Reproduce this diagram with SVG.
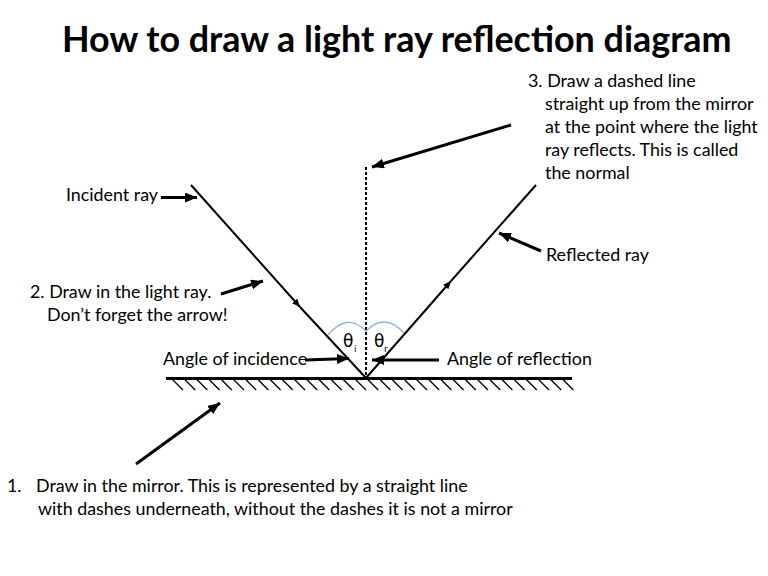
<svg xmlns="http://www.w3.org/2000/svg" width="768" height="576" viewBox="0 0 768 576">
<defs>
<marker id="a" markerUnits="userSpaceOnUse" markerWidth="14" markerHeight="12" refX="12" refY="5" orient="auto"><path d="M0 0L12 5L0 10z" fill="#000"/></marker>
<marker id="s" markerUnits="userSpaceOnUse" markerWidth="10" markerHeight="8" refX="8" refY="3.5" orient="auto"><path d="M0 0L8 3.5L0 7z" fill="#000"/></marker>
</defs>
<style>
text{font-family:"Lato","Liberation Sans",sans-serif;font-size:17.85px;fill:#000}
.t{font-size:35.9px;font-weight:700}
.k{font-family:"DejaVu Sans",sans-serif;font-size:17px}
.u{font-family:"DejaVu Sans",sans-serif;font-size:9px}
.c{fill:none;stroke:#000;stroke-width:3}
.r{fill:none;stroke:#000;stroke-width:2}
.h{fill:none;stroke:#000;stroke-width:1.3}
.n{fill:none;stroke:#000;stroke-width:2;stroke-dasharray:3 2}
.b{fill:none;stroke:#8fb0dc;stroke-width:1.3}
</style>
<g id="title"><text class="t" x="62" y="52">How to draw a light ray reflection diagram</text></g>
<g id="mirror">
<path d="M166 378.500H572" fill="none" stroke="#000" stroke-width="3"/>
<path class="h" d="M172 379l11 11M184.200 379l11 11M196.400 379l11 11M208.600 379l11 11M220.800 379l11 11M233 379l11 11M245.200 379l11 11M257.400 379l11 11M269.600 379l11 11M281.800 379l11 11M294 379l11 11M306.200 379l11 11M318.400 379l11 11M330.600 379l11 11M342.800 379l11 11M355 379l11 11M367.200 379l11 11M379.400 379l11 11M391.600 379l11 11M403.800 379l11 11M416 379l11 11M428.200 379l11 11M440.400 379l11 11M452.600 379l11 11M464.800 379l11 11M477 379l11 11M489.200 379l11 11M501.400 379l11 11M513.600 379l11 11M525.800 379l11 11M538 379l11 11M550.200 379l11 11M562.400 379l11 11"/>
</g>
<g id="rays">
<path class="r" d="M191 185L300 307" marker-end="url(#s)"/>
<path class="r" d="M300 307L366 378"/>
<path class="r" d="M366 378L451 281" marker-end="url(#s)"/>
<path class="r" d="M451 281L536 185"/>
<path class="n" d="M366 167V378"/>
</g>
<g id="angles">
<path class="b" d="M328 335Q347 312 366 331Q385 312 404 333"/>
<text class="k" x="343" y="347">θ</text><text class="u" x="354" y="352">i</text>
<text class="k" x="374" y="347">θ</text><text class="u" x="384" y="352">r</text>
</g>
<g id="connectors">
<path class="c" d="M161 197.500H197" marker-end="url(#a)"/>
<path class="c" d="M221 294L263 281" marker-end="url(#a)"/>
<path class="c" d="M305 360L349 358.500" marker-end="url(#a)"/>
<path class="c" d="M439 360H372" marker-end="url(#a)"/>
<path class="c" d="M511 125L372 167" marker-end="url(#a)"/>
<path class="c" d="M541 251L499 233" marker-end="url(#a)"/>
<path class="c" d="M136 464L220 403" marker-end="url(#a)"/>
</g>
<g id="label-incident"><text x="66" y="201">Incident ray</text></g>
<g id="label-step2"><text x="30" y="298">2. Draw in the light ray.</text><text x="47" y="321">Don’t forget the arrow!</text></g>
<g id="label-incidence"><text x="163" y="365">Angle of incidence</text></g>
<g id="label-reflection"><text x="447" y="365">Angle of reflection</text></g>
<g id="label-reflected"><text x="546" y="261">Reflected ray</text></g>
<g id="label-step3">
<text x="528" y="86.500">3. Draw a dashed line</text>
<text x="545" y="110">straight up from the mirror</text>
<text x="545" y="132.500">at the point where the light</text>
<text x="545" y="155.500">ray reflects. This is called</text>
<text x="545" y="178.500">the normal</text>
</g>
<g id="label-step1">
<text x="7" y="492">1.</text><text x="36" y="492">Draw in the mirror. This is represented by a straight line</text>
<text x="38" y="515">with dashes underneath, without the dashes it is not a mirror</text>
</g>
</svg>
